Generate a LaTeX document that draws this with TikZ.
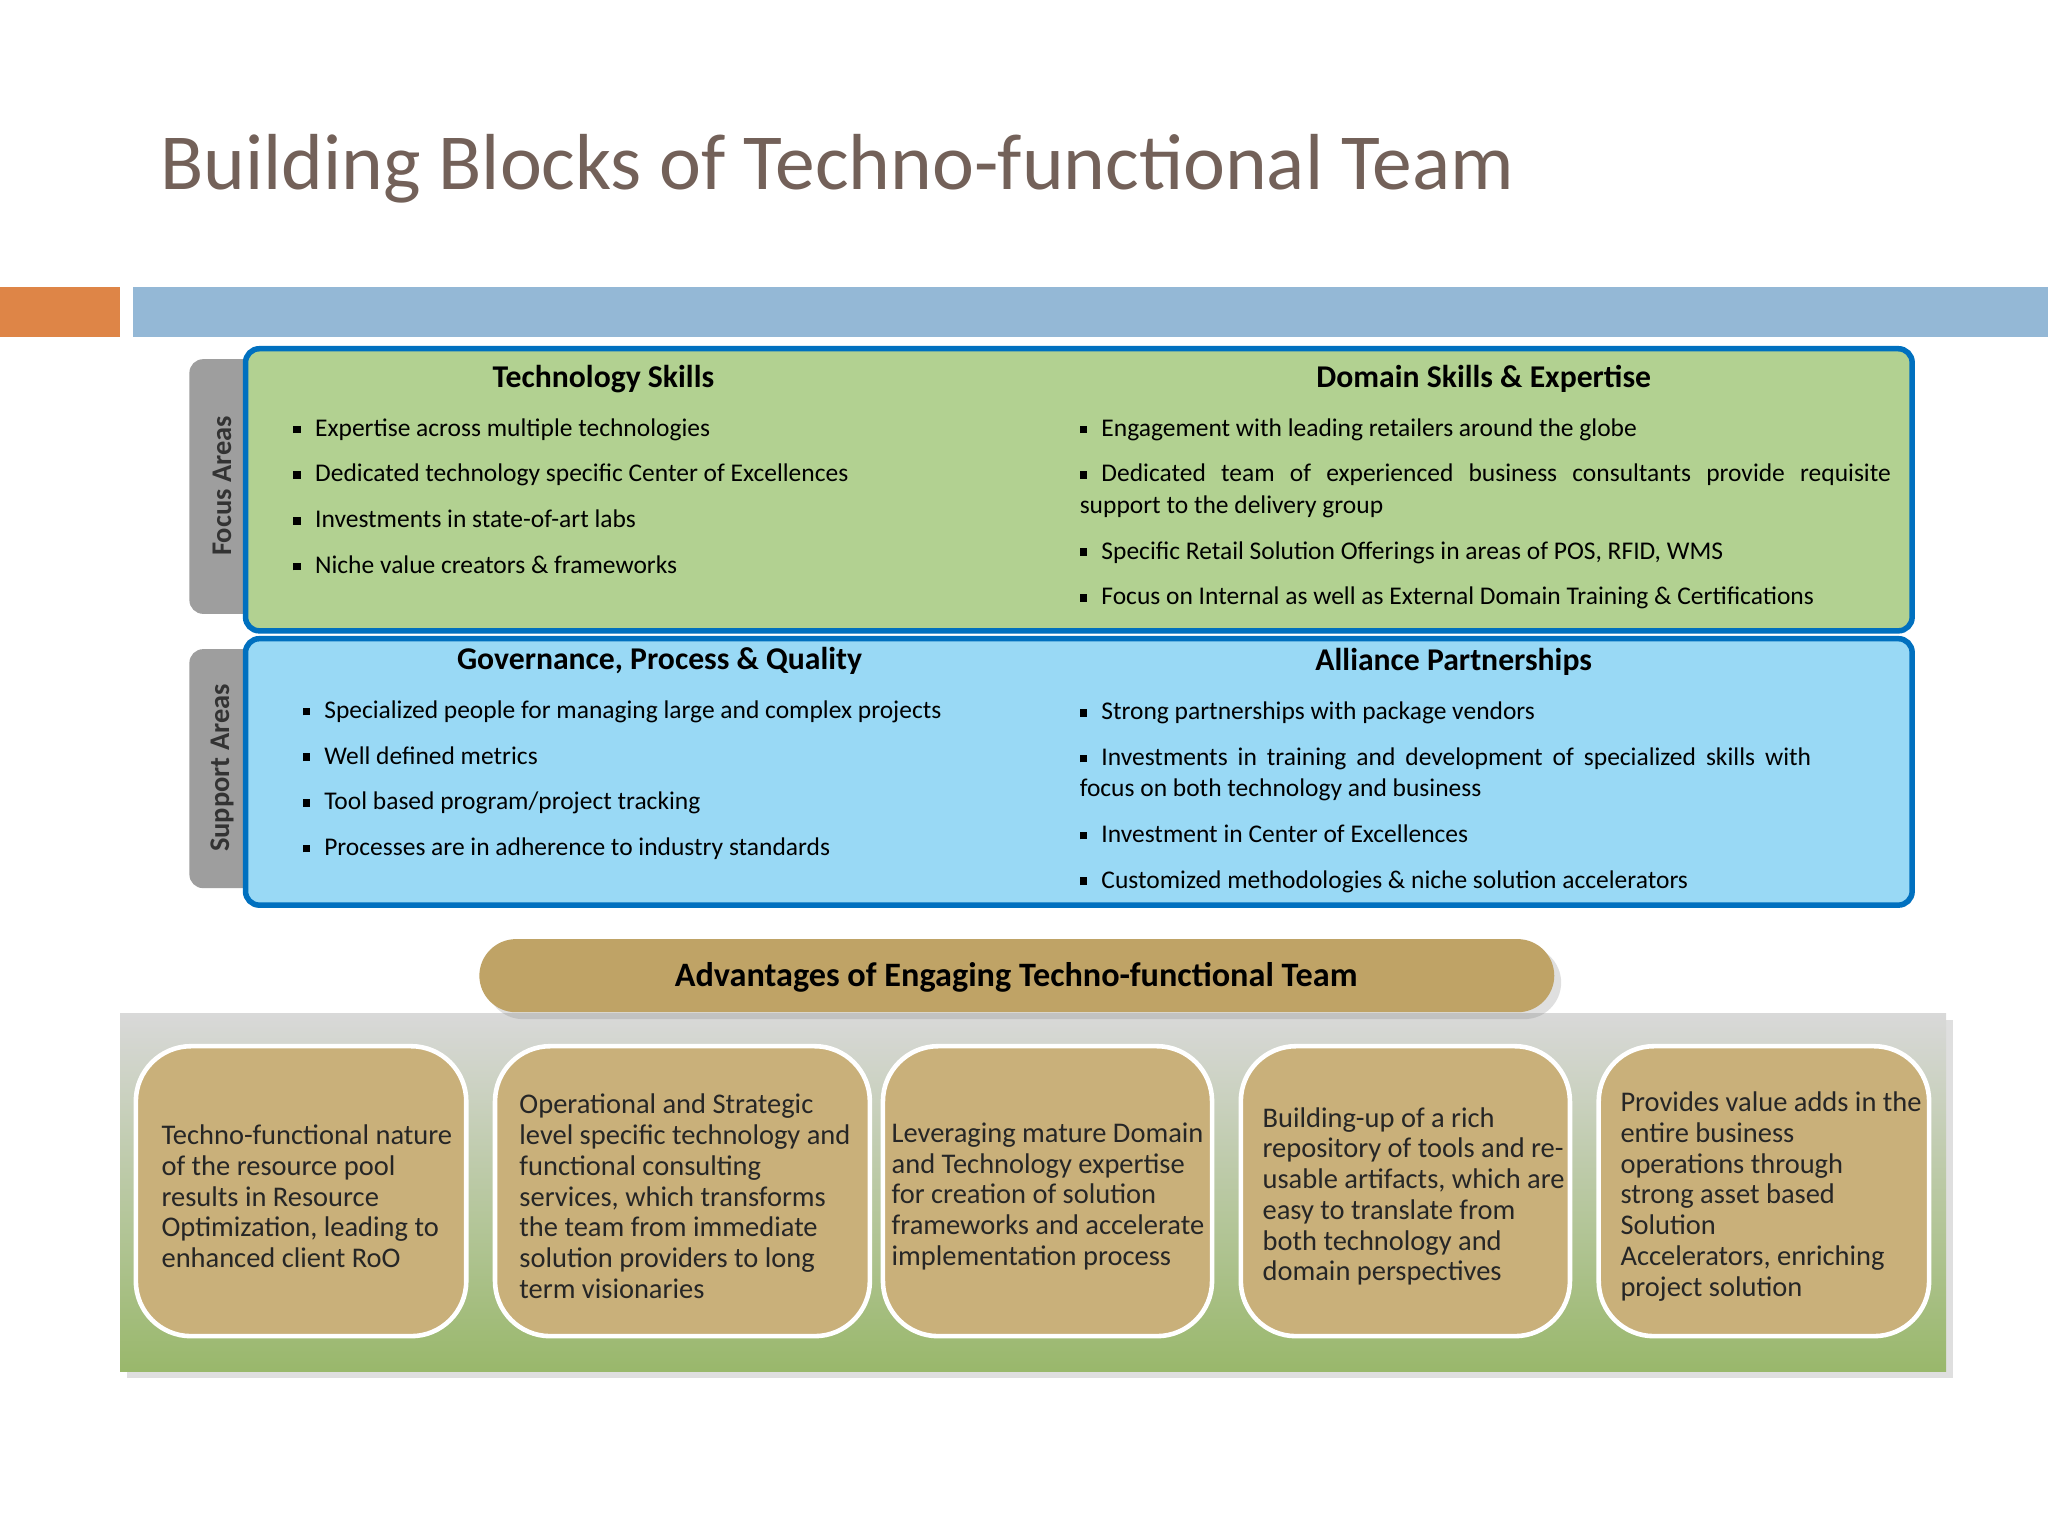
\documentclass[tikz,border=0pt]{standalone}
\usepackage{fontspec}
\setmainfont{Carlito}
\usetikzlibrary{shadows}
\definecolor{titlebrown}{rgb}{0.45,0.38,0.35}
\definecolor{barorange}{rgb}{0.87,0.52,0.28}
\definecolor{barblue}{rgb}{0.58,0.72,0.84}
\definecolor{focusgreen}{rgb}{0.70,0.82,0.57}
\definecolor{supportblue}{rgb}{0.60,0.85,0.96}
\definecolor{frameblue}{rgb}{0.0,0.44,0.75}
\definecolor{tabgray}{rgb}{0.62,0.62,0.62}
\definecolor{bannertan}{rgb}{0.75,0.64,0.40}
\definecolor{boxtan}{rgb}{0.79,0.69,0.48}
\definecolor{panelgreen}{rgb}{0.60,0.72,0.42}
\newcommand{\bsq}{\rule[0.12em]{0.3em}{0.3em}\hspace{0.55em}}
\newcommand{\itemfont}{\fontsize{5.55}{6.8}\selectfont\hyphenpenalty10000\relax}
\tikzset{area/.style={draw=frameblue, line width=1.2pt, rounded corners=3pt},
  tab/.style={fill=tabgray, rounded corners=3pt},
  head/.style={font=\fontsize{6.9}{8}\selectfont\bfseries, text=black},
  item/.style={anchor=base west, inner sep=0pt, font=\itemfont, align=justify},
  side/.style={rotate=90, font=\fontsize{6.2}{7}\selectfont\bfseries, text=black!80},
  adv/.style={draw=white, line width=1pt, fill=boxtan, rounded corners=12pt},
  advtext/.style={anchor=west, inner sep=0pt, align=left, font=\fontsize{6.2}{6.7}\selectfont, text=black!85}}
\begin{document}
\begin{tikzpicture}[x=0.01cm, y=-0.01cm]
\fill[white] (0,0) rectangle (1568,1176);
% title and bars
\node[anchor=base west, inner sep=0pt, text=titlebrown, font=\fontsize{17.3}{19}\selectfont] (title) at (122,145) {Building Blocks of Techno-functional Team};
\fill[barorange] (0,220) rectangle (92,258);
\fill[barblue] (102,220) rectangle (1568,258);
% focus areas
\fill[tab] (145,275) rectangle (200,470);
\node[side] (focus) at (170,372) {Focus Areas};
\draw[area, fill=focusgreen] (188,267) rectangle (1464,483);
\node[head] (tech) at (462,290) {Technology Skills};
\node[head] (domain) at (1136,290) {Domain Skills \& Expertise};
\node[item] (t1) at (224,334) {\bsq Expertise across multiple technologies};
\node[item] (t2) at (224,369) {\bsq Dedicated technology specific Center of Excellences};
\node[item] (t3) at (224,404) {\bsq Investments in state-of-art labs};
\node[item] (t4) at (224,439) {\bsq Niche value creators \& frameworks};
\node[item] (d1) at (826,334) {\bsq Engagement with leading retailers around the globe};
\node[item, text width=621*0.01cm] (d2) at (826,369) {\bsq Dedicated team of experienced business consultants provide requisite support to the delivery group};
\node[item] (d3) at (826,428) {\bsq Specific Retail Solution Offerings in areas of POS, RFID, WMS};
\node[item] (d4) at (826,463) {\bsq Focus on Internal as well as External Domain Training \& Certifications};
% support areas
\fill[tab] (145,497) rectangle (200,680);
\node[side] (support) at (170,588) {Support Areas};
\draw[area, fill=supportblue] (188,489) rectangle (1464,693);
\node[head] (gov) at (505,506) {Governance, Process \& Quality};
\node[head] (alli) at (1113,507) {Alliance Partnerships};
\node[item] (g1) at (231,550) {\bsq Specialized people for managing large and complex projects};
\node[item] (g2) at (231,585) {\bsq Well defined metrics};
\node[item] (g3) at (231,620) {\bsq Tool based program/project tracking};
\node[item] (g4) at (231,655) {\bsq Processes are in adherence to industry standards};
\node[item] (a1) at (826,551) {\bsq Strong partnerships with package vendors};
\node[item, text width=560*0.01cm] (a2) at (826,586) {\bsq Investments in training and development of specialized skills with focus on both technology and business};
\node[item] (a3) at (826,645) {\bsq Investment in Center of Excellences};
\node[item] (a4) at (826,680) {\bsq Customized methodologies \& niche solution accelerators};
% advantages
\fill[top color=black!15, bottom color=panelgreen, drop shadow={shadow xshift=1.5pt, shadow yshift=-1.5pt, opacity=0.25}] (92,776) rectangle (1490,1050);
\fill[bannertan, rounded corners=8pt, drop shadow={shadow xshift=1.5pt, shadow yshift=-1.5pt, opacity=0.25}] (367,719) rectangle (1190,775);
\node[font=\fontsize{7.45}{9}\selectfont\bfseries] (advhead) at (778,748) {Advantages of Engaging Techno-functional Team};
\draw[adv] (104,801) rectangle (357,1023);
\draw[adv] (379,801) rectangle (666,1023);
\draw[adv] (676,801) rectangle (928,1023);
\draw[adv] (950,801) rectangle (1202,1023);
\draw[adv] (1224,801) rectangle (1477,1023);
\node[advtext] (b1) at (123,916) {Techno-functional nature\\of the resource pool\\results in Resource\\Optimization, leading to\\enhanced client RoO};
\node[advtext] (b2) at (397,916) {Operational and Strategic\\level specific technology and\\functional consulting\\services, which transforms\\the team from immediate\\solution providers to long\\term visionaries};
\node[advtext] (b3) at (682,916) {Leveraging mature Domain\\and Technology expertise\\for creation of solution\\frameworks and accelerate\\implementation process};
\node[advtext] (b4) at (966,916) {Building-up of a rich\\repository of tools and re-\\usable artifacts, which are\\easy to translate from\\both technology and\\domain perspectives};
\node[advtext] (b5) at (1240,916) {Provides value adds in the\\entire business\\operations through\\strong asset based\\Solution\\Accelerators, enriching\\project solution};
\end{tikzpicture}
\end{document}
